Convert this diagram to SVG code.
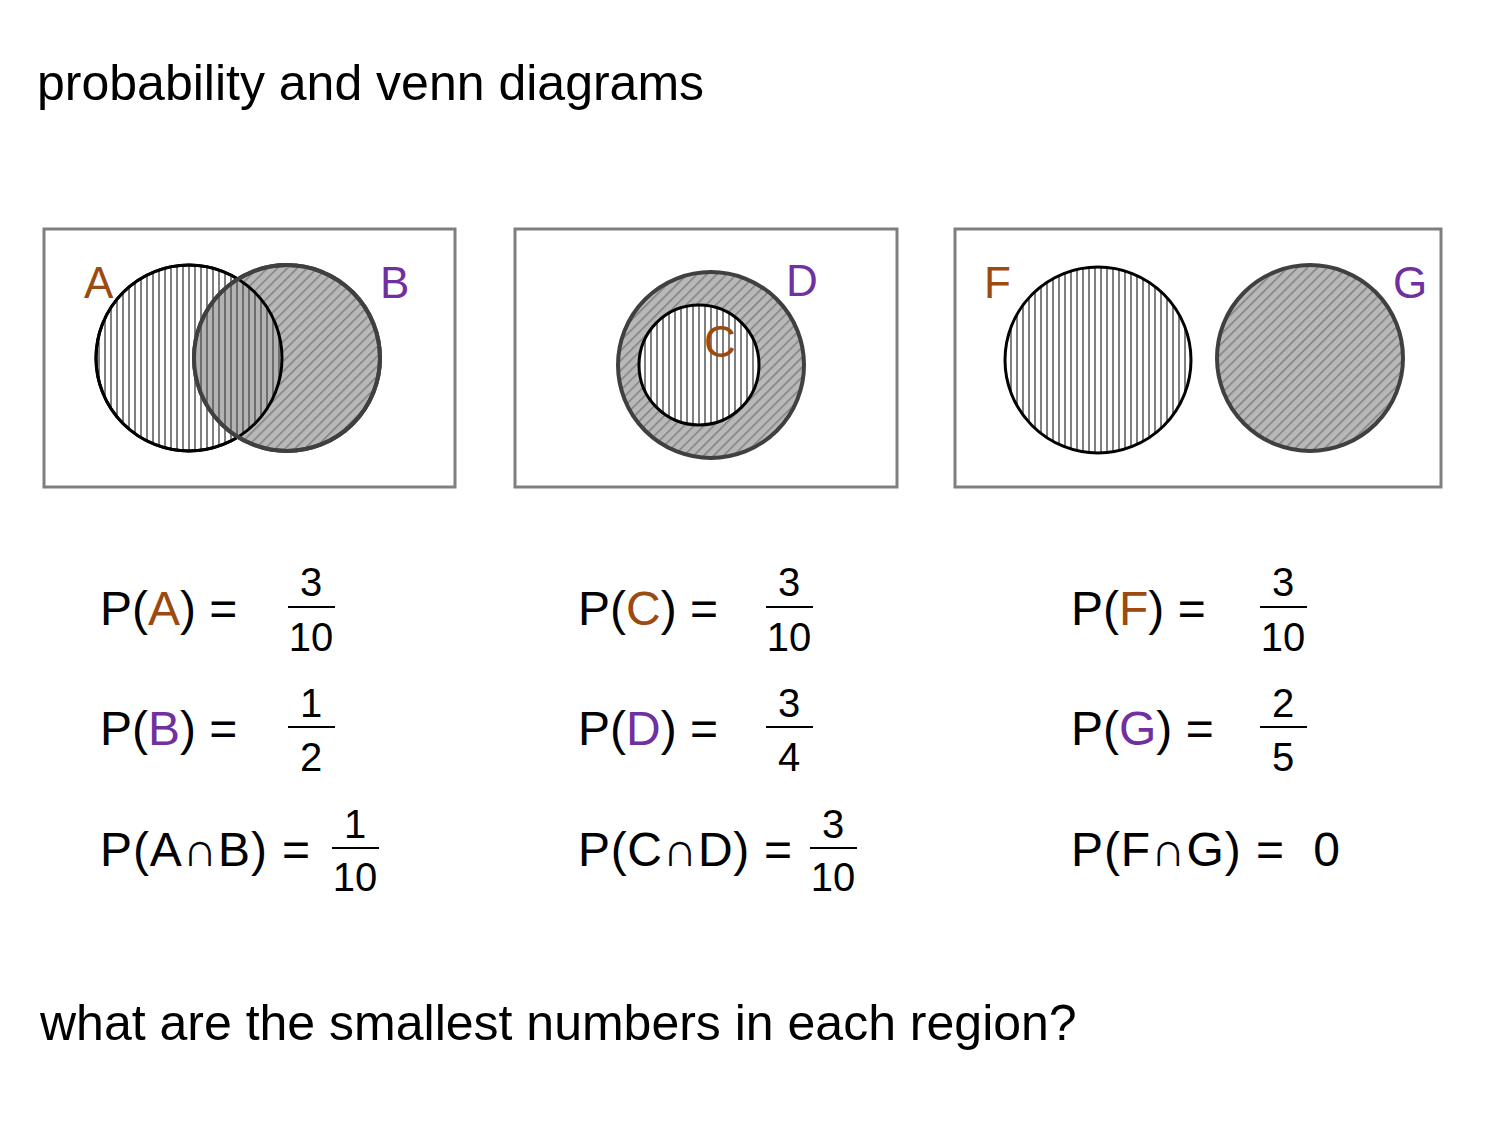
<svg xmlns="http://www.w3.org/2000/svg" width="1500" height="1125" viewBox="0 0 1500 1125">
<style>
text{font-family:"Liberation Sans",Arial,sans-serif;fill:#000}
.t{font-size:50px}
.e{font-size:48px}
.l{font-size:44px}
.f{font-size:40px;text-anchor:middle}
.o{fill:#9b4a10}
.p{fill:#7030a0}
.box{fill:none;stroke:#7f7f7f;stroke-width:3}
.vo{fill:url(#vert);stroke:#000;stroke-width:3}
.ho{fill:url(#diag);stroke:#404040;stroke-width:4}
.bar{stroke:#000;stroke-width:2}
</style>
<defs>
<pattern id="vert" width="6" height="6" patternUnits="userSpaceOnUse"><rect width="6" height="6" fill="#fff"/><line x1="3" y1="0" x2="3" y2="6" stroke="#555" stroke-width="1.5"/></pattern>
<pattern id="vertg" width="6" height="6" patternUnits="userSpaceOnUse"><rect width="6" height="6" fill="#b3b3b3"/><line x1="3" y1="0" x2="3" y2="6" stroke="#555" stroke-width="1.5"/></pattern>
<pattern id="diag" width="7" height="7" patternUnits="userSpaceOnUse" patternTransform="rotate(45)"><rect width="7" height="7" fill="#b8b8b8"/><line x1="0" y1="0" x2="0" y2="7" stroke="#808080" stroke-width="3"/></pattern>
<clipPath id="cb"><circle cx="287" cy="358" r="93"/></clipPath>
</defs>
<text x="37" y="100" class="t">probability and venn diagrams</text>
<g id="venn1">
<rect x="44" y="229" width="411" height="258" class="box"/>
<circle cx="189" cy="358" r="93" class="vo"/>
<circle cx="287" cy="358" r="93" class="ho"/>
<circle cx="189" cy="358" r="93" fill="url(#vertg)" clip-path="url(#cb)"/>
<circle cx="189" cy="358" r="93" fill="none" stroke="#000" stroke-width="3"/>
<circle cx="287" cy="358" r="93" fill="none" stroke="#404040" stroke-width="4"/>
<text x="84" y="298" class="l o">A</text>
<text x="380" y="298" class="l p">B</text>
</g>
<g id="venn2">
<rect x="515" y="229" width="382" height="258" class="box"/>
<circle cx="711" cy="365" r="93" class="ho"/>
<circle cx="699" cy="365" r="60" class="vo"/>
<text x="704" y="357" class="l o">C</text>
<text x="786" y="296" class="l p">D</text>
</g>
<g id="venn3">
<rect x="955" y="229" width="486" height="258" class="box"/>
<circle cx="1098" cy="360" r="93" class="vo"/>
<circle cx="1310" cy="358" r="93" class="ho"/>
<text x="984" y="298" class="l o">F</text>
<text x="1393" y="298" class="l p">G</text>
</g>
<g id="eq1">
<text x="100" y="625" class="e">P(<tspan class="o">A</tspan>) =</text>
<text x="311" y="596" class="f">3</text><line x1="288" y1="607" x2="335" y2="607" class="bar"/><text x="311" y="651" class="f">10</text>
<text x="100" y="745" class="e">P(<tspan class="p">B</tspan>) =</text>
<text x="311" y="717" class="f">1</text><line x1="288" y1="727" x2="335" y2="727" class="bar"/><text x="311" y="771" class="f">2</text>
<text x="100" y="866" class="e" textLength="210">P(A∩B) =</text>
<text x="355" y="838" class="f">1</text><line x1="332" y1="848" x2="379" y2="848" class="bar"/><text x="355" y="891" class="f">10</text>
</g>
<g id="eq2">
<text x="578" y="625" class="e">P(<tspan class="o">C</tspan>) =</text>
<text x="789" y="596" class="f">3</text><line x1="766" y1="607" x2="813" y2="607" class="bar"/><text x="789" y="651" class="f">10</text>
<text x="578" y="745" class="e">P(<tspan class="p">D</tspan>) =</text>
<text x="789" y="717" class="f">3</text><line x1="766" y1="727" x2="813" y2="727" class="bar"/><text x="789" y="771" class="f">4</text>
<text x="578" y="866" class="e" textLength="214">P(C∩D) =</text>
<text x="833" y="838" class="f">3</text><line x1="810" y1="848" x2="857" y2="848" class="bar"/><text x="833" y="891" class="f">10</text>
</g>
<g id="eq3">
<text x="1071" y="625" class="e">P(<tspan class="o">F</tspan>) =</text>
<text x="1283" y="596" class="f">3</text><line x1="1260" y1="607" x2="1307" y2="607" class="bar"/><text x="1283" y="651" class="f">10</text>
<text x="1071" y="745" class="e">P(<tspan class="p">G</tspan>) =</text>
<text x="1283" y="717" class="f">2</text><line x1="1260" y1="727" x2="1307" y2="727" class="bar"/><text x="1283" y="771" class="f">5</text>
<text x="1071" y="866" class="e"><tspan textLength="213">P(F∩G) =</tspan><tspan x="1300"> 0</tspan></text>
</g>
<text x="40" y="1040" class="t">what are the smallest numbers in each region?</text>
</svg>
